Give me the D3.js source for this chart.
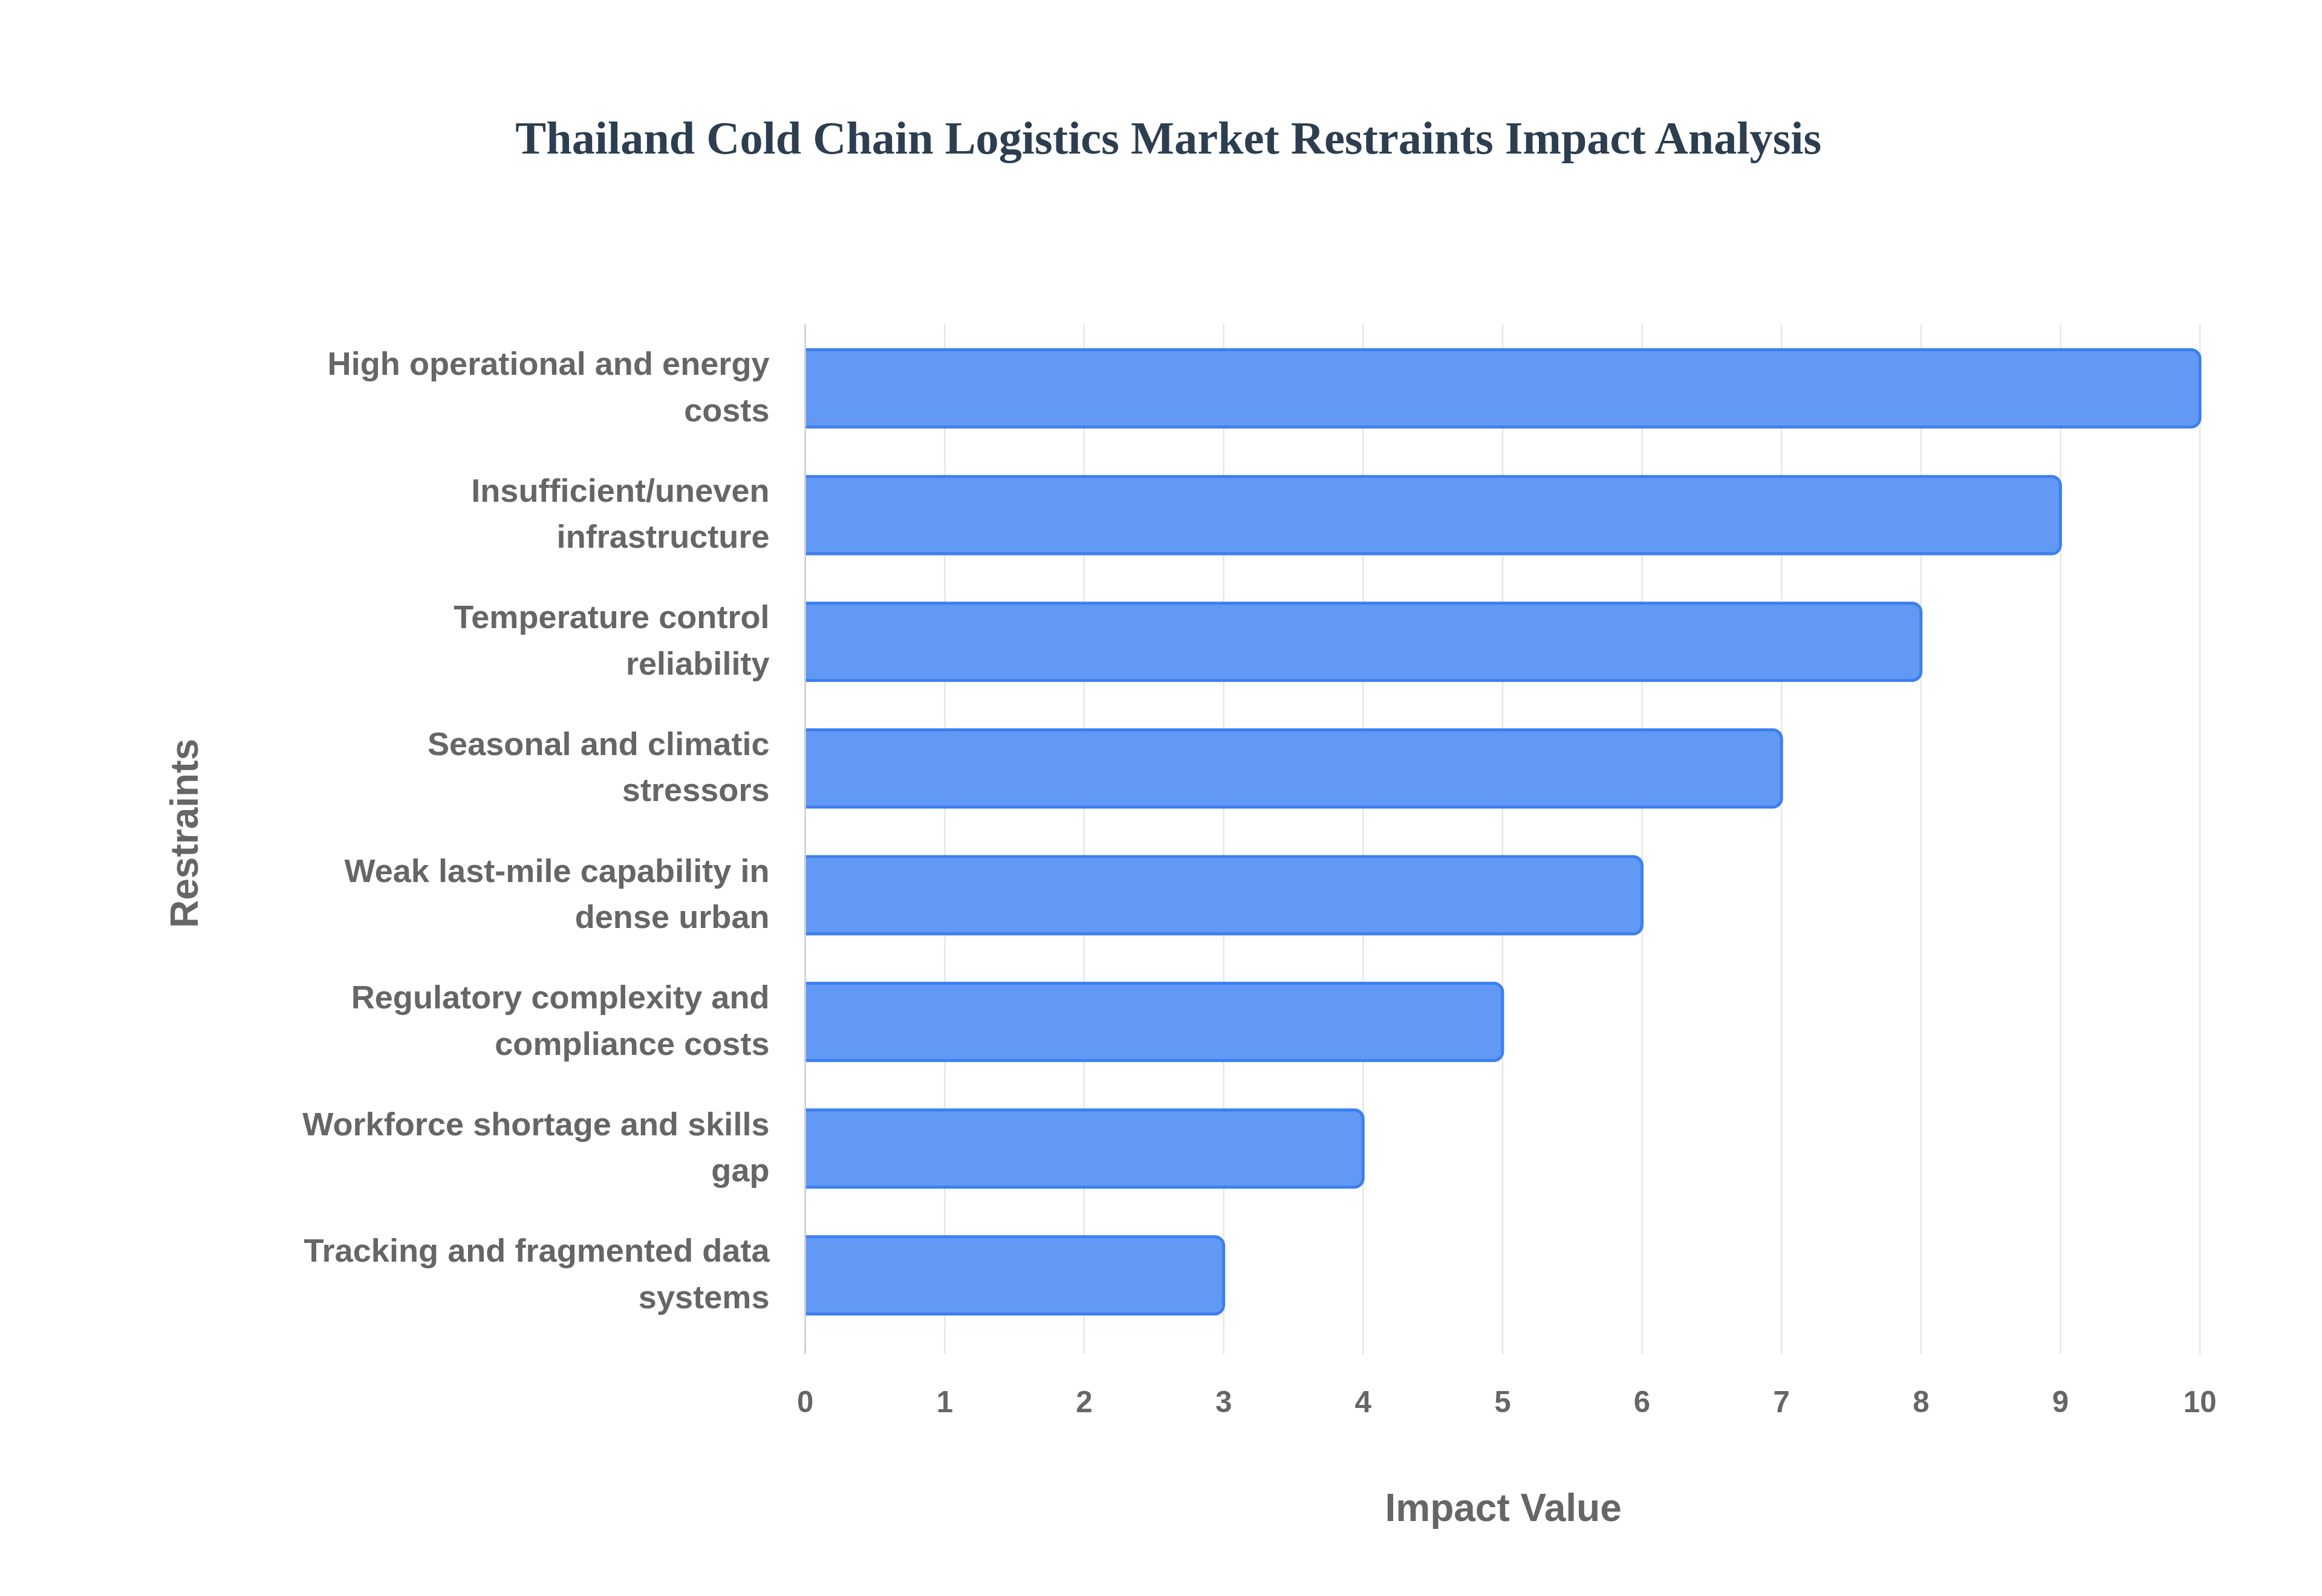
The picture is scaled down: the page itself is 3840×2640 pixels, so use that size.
<!DOCTYPE html>
<html>
<head>
<meta charset="utf-8">
<script src="https://cdn.jsdelivr.net/npm/d3@7"></script>
<style>
  body { margin: 0; background: #fff; }
  text { font-family: "Liberation Sans", Arial, sans-serif; }
</style>
</head>
<body>
<svg id="chart" width="3840" height="2640" viewBox="0 0 1560 1072.5"></svg>
<script>
const restraints = [
  "High operational and energy costs",
  "Insufficient/uneven infrastructure",
  "Temperature control reliability",
  "Seasonal and climatic stressors",
  "Weak last-mile capability in dense urban",
  "Regulatory complexity and compliance costs",
  "Workforce shortage and skills gap",
  "Tracking and fragmented data systems",
];
const labelLines = [
  ["High operational and energy", "costs"],
  ["Insufficient/uneven", "infrastructure"],
  ["Temperature control", "reliability"],
  ["Seasonal and climatic", "stressors"],
  ["Weak last-mile capability in", "dense urban"],
  ["Regulatory complexity and", "compliance costs"],
  ["Workforce shortage and skills", "gap"],
  ["Tracking and fragmented data", "systems"],
];
const impact = [10, 9, 8, 7, 6, 5, 4, 3];
const xTicks = d3.range(0, 11);

const m = { left: 541, right: 1478, top: 218, bottom: 900 };
const svg = d3.select("#chart");

svg.append("text")
  .attr("x", 785).attr("y", 103)
  .attr("text-anchor", "middle")
  .style("font-family", "'Liberation Serif', 'Times New Roman', serif")
  .style("font-weight", "bold").style("font-size", "31px")
  .attr("fill", "#2c3e50")
  .text("Thailand Cold Chain Logistics Market Restraints Impact Analysis");

const x = d3.scaleLinear().domain([0, 10]).range([m.left, m.right]);
const y = d3.scaleBand().domain(restraints).range([m.top, m.bottom]).paddingInner(0.39).paddingOuter(0.2);

// grid
svg.append("g").selectAll("line").data(xTicks).join("line")
  .attr("x1", d => x(d)).attr("x2", d => x(d))
  .attr("y1", m.top).attr("y2", m.bottom + 10)
  .attr("stroke", d => d === 0 ? "#d0d0d0" : "#e6e6e6").attr("stroke-width", 1);

// bars
svg.append("g").selectAll("rect").data(restraints).join("rect")
  .attr("x", x(0) - 8)
  .attr("y", d => y(d))
  .attr("width", (d, i) => x(impact[i]) - x(0) + 8)
  .attr("height", y.bandwidth())
  .attr("rx", 6)
  .attr("fill", "#6199f5")
  .attr("stroke", "#3d7ff0").attr("stroke-width", 2);
// clip left side
svg.append("rect").attr("x", m.left - 20).attr("y", m.top).attr("width", 19.5).attr("height", m.bottom - m.top).attr("fill", "#fff");
svg.append("line").attr("x1", m.left).attr("x2", m.left).attr("y1", m.top).attr("y2", m.bottom + 10)
  .attr("stroke", "#d0d0d0");

// x tick labels
svg.append("g").selectAll("text").data(xTicks).join("text")
  .attr("x", d => x(d)).attr("y", 949)
  .attr("text-anchor", "middle")
  .style("font-weight", "bold").style("font-size", "20px")
  .attr("fill", "#666").text(d => d);

// y labels
const yl = svg.append("g").selectAll("text").data(restraints).join("text")
  .attr("text-anchor", "end")
  .style("font-weight", "bold").style("font-size", "22px")
  .attr("fill", "#666");
yl.each(function(d, i) {
  const c = y(d) + y.bandwidth() / 2;
  d3.select(this).selectAll("tspan").data(labelLines[i]).join("tspan")
    .attr("x", 517).attr("y", (t, j) => c - 9 + j * 31)
    .text(t => t);
});

svg.append("text")
  .attr("x", 1010).attr("y", 1022).attr("text-anchor", "middle")
  .style("font-weight", "bold").style("font-size", "26px")
  .attr("fill", "#666").text("Impact Value");

svg.append("text")
  .attr("transform", "translate(133,560) rotate(-90)").attr("text-anchor", "middle")
  .style("font-weight", "bold").style("font-size", "26px")
  .attr("fill", "#666").text("Restraints");
</script>
</body>
</html>
